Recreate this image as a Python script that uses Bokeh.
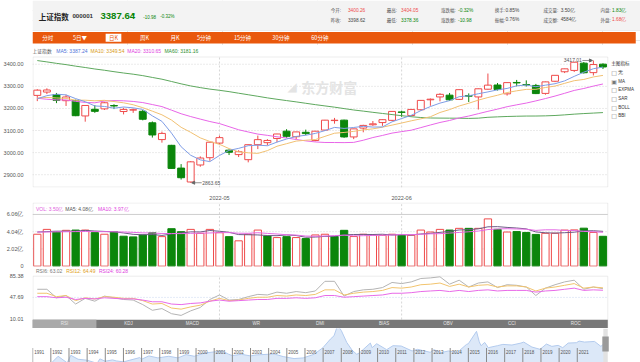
import numpy as np
from bokeh.plotting import figure
from bokeh.layouts import column
from bokeh.models import (Range1d, FixedTicker, NumeralTickFormatter, Label,
                          BoxAnnotation, ColumnDataSource, Arrow, NormalHead)
from bokeh.embed import file_html
from bokeh.resources import INLINE
from bokeh.core.properties import value

# ======================= data =======================
trade_dates = (["2022-04-%s" % d for d in ["01", "06", "07", "08", "11", "12", "13", "14", "15", "18",
                                           "19", "20", "21", "22", "25", "26", "27", "28", "29"]] +
               ["2022-05-%s" % d for d in ["05", "06", "09", "10", "11", "12", "13", "16", "17", "18",
                                           "19", "20", "23", "24", "25", "26", "27", "30", "31"]] +
               ["2022-06-%s" % d for d in ["01", "02", "06", "07", "08", "09", "10", "13", "14", "15",
                                           "16", "17", "20", "21", "22", "23", "24", "27", "28", "29", "30"]] +
               ["2022-07-01"])

opens = [3259.0, 3274.0, 3263.0, 3235.0, 3235.0, 3166.0, 3196.0, 3198.0, 3213.0, 3186.0,
         3192.5, 3187.0, 3135.0, 3059.0, 3033.0, 2930.0, 2867.0, 2944.0, 2977.0, 3043.0,
         3011.0, 2991.0, 2968.0, 3036.0, 3045.0, 3064.0, 3097.0, 3072.0, 3092.0, 3055.0,
         3102.0, 3145.0, 3147.0, 3071.0, 3111.0, 3126.0, 3136.0, 3146.0, 3184.0, 3168.0,
         3194.0, 3239.0, 3252.0, 3260.0, 3241.0, 3258.0, 3252.0, 3287.0, 3306.0, 3266.0,
         3317.5, 3308.0, 3304.0, 3268.0, 3323.0, 3366.0, 3372.0, 3405.0, 3362.0, 3400.26]
highs = [3287.0, 3291.0, 3270.0, 3262.0, 3240.0, 3214.0, 3215.0, 3230.0, 3219.0, 3203.0,
         3200.0, 3193.0, 3141.0, 3095.0, 3035.0, 2948.0, 2962.0, 2983.0, 3048.0, 3077.0,
         3014.0, 3011.0, 3036.0, 3077.0, 3061.0, 3085.0, 3106.0, 3094.0, 3104.0, 3097.0,
         3148.0, 3157.0, 3149.0, 3108.0, 3126.0, 3143.0, 3150.0, 3187.0, 3189.0, 3196.0,
         3237.0, 3245.0, 3269.0, 3270.0, 3286.0, 3268.0, 3290.0, 3358.0, 3315.0, 3318.0,
         3329.0, 3327.0, 3311.0, 3321.0, 3350.0, 3380.0, 3409.5, 3410.0, 3417.01, 3404.05]
lows = [3233.0, 3265.0, 3224.0, 3211.0, 3165.0, 3140.0, 3180.0, 3193.0, 3197.0, 3173.0,
        3180.0, 3146.0, 3068.0, 3045.0, 2928.0, 2878.0, 2863.65, 2936.0, 2963.0, 3037.0,
        2989.0, 2980.0, 2956.0, 3016.0, 3033.0, 3047.0, 3067.0, 3061.0, 3079.0, 3051.0,
        3098.0, 3131.0, 3067.0, 3061.0, 3092.0, 3121.0, 3121.0, 3143.0, 3162.0, 3163.0,
        3190.0, 3212.0, 3232.0, 3234.0, 3238.0, 3229.0, 3195.0, 3285.0, 3281.0, 3258.0,
        3300.0, 3299.0, 3265.0, 3262.0, 3319.0, 3360.0, 3365.0, 3358.0, 3349.0, 3378.36]
closes = [3282.72, 3283.43, 3236.70, 3251.85, 3167.13, 3213.33, 3186.82, 3225.64, 3211.24, 3195.52,
          3194.03, 3151.05, 3079.81, 3086.92, 2928.51, 2886.43, 2958.28, 2975.48, 3047.06, 3067.76,
          3001.56, 3004.14, 3035.84, 3058.70, 3054.99, 3084.28, 3073.75, 3093.70, 3085.98, 3096.96,
          3146.86, 3146.57, 3070.93, 3107.46, 3123.11, 3130.24, 3149.06, 3186.43, 3182.16, 3195.46,
          3236.37, 3241.76, 3263.79, 3238.95, 3284.83, 3255.55, 3288.91, 3305.41, 3285.38, 3316.79,
          3315.43, 3306.72, 3267.20, 3320.15, 3349.75, 3379.19, 3409.21, 3361.52, 3398.62, 3387.64]
prev_close_before = 3252.20

ma5 = [3243.99, 3257.78, 3264.33, 3261.38, 3244.37, 3230.49, 3211.17, 3208.96, 3200.84, 3206.52,
       3202.66, 3195.51, 3166.34, 3141.48, 3088.08, 3026.56, 2988.01, 2967.14, 2959.17, 2987.02,
       3010.05, 3019.22, 3031.29, 3033.62, 3031.07, 3047.61, 3061.53, 3073.10, 3078.56, 3086.95,
       3099.47, 3114.03, 3109.48, 3113.78, 3119.01, 3115.69, 3116.19, 3139.29, 3154.23, 3168.70,
       3189.93, 3208.47, 3223.94, 3235.30, 3253.17, 3257.01, 3266.44, 3274.76, 3284.05, 3290.44,
       3302.42, 3305.98, 3298.34, 3305.29, 3311.88, 3324.63, 3345.13, 3363.99, 3379.68, 3387.24]
ma10 = [3246.72, 3249.69, 3247.37, 3245.45, 3237.14, 3237.25, 3234.48, 3236.65, 3231.11, 3225.44,
        3216.57, 3203.33, 3187.64, 3171.15, 3147.29, 3114.60, 3091.75, 3066.73, 3050.31, 3037.53,
        3018.28, 3003.59, 2999.19, 2996.37, 3009.02, 3028.81, 3040.36, 3052.18, 3056.07, 3058.99,
        3073.52, 3087.76, 3091.27, 3096.15, 3102.96, 3107.56, 3115.09, 3124.36, 3133.98, 3143.83,
        3152.78, 3162.30, 3181.59, 3194.74, 3210.91, 3223.44, 3237.43, 3249.33, 3259.65, 3271.78,
        3279.69, 3286.19, 3286.53, 3294.65, 3301.14, 3313.50, 3325.53, 3331.14, 3342.46, 3349.54]
ma20 = [3246.01, 3241.54, 3238.70, 3238.47, 3232.02, 3227.20, 3225.36, 3233.44, 3235.47, 3234.49,
        3231.64, 3226.51, 3217.51, 3208.30, 3192.21, 3175.92, 3163.11, 3151.69, 3140.71, 3131.49,
        3117.43, 3103.47, 3093.43, 3083.77, 3078.16, 3071.71, 3066.06, 3059.46, 3053.20, 3048.27,
        3045.91, 3045.69, 3045.25, 3046.28, 3056.01, 3068.20, 3077.74, 3088.29, 3095.05, 3101.44,
        3113.15, 3125.03, 3136.43, 3145.44, 3156.93, 3165.49, 3176.25, 3186.84, 3196.81, 3207.80,
        3216.23, 3224.24, 3234.05, 3244.68, 3256.01, 3268.46, 3281.47, 3290.22, 3301.04, 3310.65]
ma60 = [3416.6, 3410.6, 3404.0, 3398.3, 3391.3, 3385.2, 3378.5, 3372.8, 3366.3, 3360.3,
        3354.9, 3348.4, 3340.2, 3332.3, 3321.9, 3311.3, 3301.8, 3294.2, 3287.4, 3282.0,
        3276.0, 3268.9, 3261.9, 3254.9, 3247.7, 3241.4, 3235.5, 3229.6, 3223.3, 3217.1,
        3211.4, 3205.7, 3199.2, 3192.9, 3187.8, 3182.4, 3177.2, 3172.2, 3167.2, 3162.4,
        3158.9, 3156.7, 3156.2, 3155.9, 3155.7, 3154.8, 3155.9, 3159.9, 3161.8, 3163.5,
        3164.6, 3165.5, 3165.6, 3166.4, 3168.0, 3170.8, 3174.1, 3176.7, 3178.9, 3181.16]

volumes = [3.74, 4.31, 4.00, 4.20, 4.23, 4.23, 3.93, 3.74, 4.04, 3.51,
           3.43, 3.66, 3.92, 3.46, 4.39, 4.04, 4.31, 3.85, 4.31, 3.92,
           3.46, 2.97, 3.74, 4.23, 3.54, 3.35, 3.46, 3.35, 3.23, 3.66,
           3.74, 3.47, 4.20, 3.47, 3.74, 3.66, 3.62, 3.74, 3.62, 3.62,
           4.23, 4.00, 4.31, 4.23, 4.43, 4.43, 4.43, 5.54, 4.31, 4.00,
           4.05, 3.95, 3.72, 3.85, 3.85, 4.23, 4.25, 4.45, 3.95, 3.50]
vol_ma5 = [4.00, 4.05, 4.10, 4.10, 4.10, 4.19, 4.12, 4.07, 4.03, 3.89,
           3.73, 3.68, 3.71, 3.60, 3.77, 3.89, 4.02, 4.01, 4.18, 4.09,
           3.97, 3.70, 3.68, 3.66, 3.59, 3.57, 3.66, 3.59, 3.39, 3.41,
           3.49, 3.49, 3.66, 3.71, 3.72, 3.71, 3.74, 3.65, 3.68, 3.65,
           3.77, 3.84, 3.96, 4.08, 4.24, 4.28, 4.37, 4.61, 4.63, 4.54,
           4.47, 4.37, 4.01, 3.91, 3.88, 3.92, 3.98, 4.13, 4.15, 4.08]
vol_ma10 = [4.00, 4.00, 4.02, 4.03, 4.05, 4.06, 4.05, 4.04, 4.03, 4.00,
            3.96, 3.90, 3.89, 3.82, 3.83, 3.81, 3.85, 3.86, 3.89, 3.93,
            3.93, 3.86, 3.85, 3.92, 3.84, 3.77, 3.68, 3.64, 3.53, 3.50,
            3.53, 3.58, 3.63, 3.55, 3.57, 3.60, 3.62, 3.66, 3.70, 3.69,
            3.74, 3.79, 3.81, 3.88, 3.95, 4.03, 4.11, 4.29, 4.36, 4.39,
            4.36, 4.33, 4.19, 4.26, 4.26, 4.19, 4.18, 4.07, 4.03, 3.97]

rsi6 = [62, 62, 47, 51, 36, 46, 41, 50, 47, 44, 43, 35, 25, 28, 19, 16, 24, 30, 44, 52,
        43, 44, 49, 53, 52, 57, 55, 58, 56, 59, 76, 76, 50, 58, 61, 62, 65, 74, 72, 75,
        81, 82, 84, 71, 78, 66, 73, 75, 65, 70, 69, 66, 51, 64, 70, 75, 78, 62, 66, 63.02]
rsi12 = [55, 55, 49, 51, 42, 47, 45, 49, 48, 46, 46, 42, 36, 37, 29, 27, 31, 34, 41, 46,
         42, 43, 46, 48, 48, 51, 50, 52, 51, 53, 61, 61, 52, 55, 57, 58, 60, 65, 64, 66,
         70, 71, 73, 67, 71, 66, 69, 70, 66, 68, 68, 66, 59, 64, 66, 69, 72, 64, 66, 64.49]
rsi24 = [49, 49, 47, 48, 44, 46, 45, 47, 46, 45, 45, 43, 40, 40, 36, 35, 37, 38, 41, 43,
         41, 42, 43, 44, 44, 46, 46, 47, 46, 47, 51, 51, 48, 49, 50, 51, 52, 55, 55, 56,
         58, 59, 60, 58, 60, 58, 60, 61, 59, 60, 60, 60, 57, 59, 60, 62, 64, 60, 61, 60.28]

price_ticks = [2900, 3000, 3100, 3200, 3300, 3400]
vol_ticks = [0, 2.02, 4.04, 6.06]
vol_tick_labels = ["0", "2.02亿", "4.04亿", "6.06亿"]
rsi_ticks = [10.01, 47.69, 85.38]

# long-history navigator (Shanghai Composite, approximate levels)
nav_x = [1991.0, 1991.5, 1992.0, 1992.4, 1992.9, 1993.1, 1993.5, 1994.0, 1994.55, 1994.7,
         1995.0, 1995.4, 1995.6, 1996.0, 1996.9, 1997.0, 1997.4, 1997.9, 1998.5, 1999.0,
         1999.45, 1999.9, 2000.5, 2001.45, 2001.8, 2002.0, 2002.5, 2003.0, 2003.3, 2004.3,
         2004.8, 2005.4, 2005.9, 2006.5, 2006.99, 2007.4, 2007.6, 2007.8, 2008.0, 2008.3,
         2008.6, 2008.85, 2009.0, 2009.6, 2009.7, 2009.95, 2010.5, 2010.85, 2011.3, 2011.9,
         2012.2, 2012.9, 2013.1, 2013.5, 2013.9, 2014.4, 2014.9, 2015.0, 2015.45, 2015.6,
         2015.7, 2015.9, 2016.1, 2016.6, 2016.9, 2017.4, 2017.9, 2018.05, 2018.5, 2018.95,
         2019.3, 2019.6, 2019.95, 2020.2, 2020.5, 2020.95, 2021.1, 2021.4, 2021.7, 2021.95,
         2022.3, 2022.5]
nav_y = [130, 150, 290, 1400, 400, 1550, 950, 800, 330, 1000,
         650, 850, 700, 550, 1200, 950, 1450, 1150, 1400, 1150,
         1650, 1400, 1900, 2200, 1700, 1500, 1700, 1450, 1600, 1750,
         1350, 1050, 1150, 1700, 2700, 4000, 4500, 6100, 5300, 3500,
         2300, 1700, 1900, 3400, 2700, 3300, 2400, 3000, 2950, 2200,
         2450, 2000, 2400, 1950, 2200, 2000, 3200, 3300, 5178, 3600,
         3000, 3500, 2700, 3000, 3200, 3100, 3400, 3550, 2800, 2450,
         3250, 2900, 3050, 2700, 3400, 3450, 3700, 3550, 3600, 3650,
         2900, 3350]
nav_years = list(range(1991, 2022))

stat_labels_1 = ["今开:", "最高:", "涨跌幅:", "换手:", "成交量:", "内盘:"]
stat_values_1 = ["3400.26", "3404.05", "-0.32%", "0.85%", "3.50亿", "1.83亿"]
stat_labels_2 = ["昨收:", "最低:", "涨跌额:", "振幅:", "成交额:", "外盘:"]
stat_values_2 = ["3398.62", "3378.36", "-10.98", "0.76%", "4584亿", "1.68亿"]
tab_names = ["分时", "5日▼", "日K", "周K", "月K", "5分钟", "15分钟", "30分钟", "60分钟"]
indicator_tabs = ["RSI", "KDJ", "MACD", "WR", "DMI", "BIAS", "OBV", "CCI", "ROC"]
main_indicators = ["无", "MA", "EXPMA", "SAR", "BOLL", "BBI"]

# ======================= style =======================
FONT = "Liberation Sans"
CJK = "Noto Sans CJK SC"
RED = "#ef4b4b"
GREEN = "#0b860b"
C_MA5, C_MA10, C_MA20, C_MA60 = "#7f9de6", "#f1c173", "#e866e8", "#5ea85e"
T_MA5, T_MA10, T_MA20, T_MA60 = "#4f72d8", "#d89a18", "#e040e0", "#2f8f2f"
GRID = "#d6d6d6"
BORDER = "#c4c4c4"
N = len(closes)
idx = list(range(N))
XR_IDX = -0.5 + 613.0 * N / 580.0   # frames run from x=27 to the page edge (640)


def add_label(fig, x, y, text, color="#555555", size="5px", align="left", bold=False, font=FONT):
    fig.add_layout(Label(x=x, y=y, text=text, text_color=color, text_font_size=size,
                         text_font=font, text_align=align, text_baseline="middle",
                         text_font_style="bold" if bold else "normal"))


def style_axis(ax):
    ax.axis_line_color = None
    ax.major_tick_line_color = None
    ax.minor_tick_line_color = None
    ax.major_label_text_font_size = "5.5px"
    ax.major_label_text_font = FONT
    ax.major_label_text_color = "#555555"
    ax.major_label_standoff = 3


def mx(px):
    return -0.5 + (px - 27.0) * N / 580.0


# ======================= header =======================
head = figure(width=640, height=45, x_range=Range1d(0, 640), y_range=Range1d(45, 0),
              output_backend="svg", toolbar_location=None, x_axis_location=None,
              y_axis_location=None, min_border=0)
head.outline_line_color = None
head.quad(left=[0], right=[640], top=[0], bottom=[30], fill_color="#f3f3f3", line_color=None)
head.quad(left=[0], right=[635], top=[31.5], bottom=[43], fill_color="#e9580c", line_color=None)
head.quad(left=[77], right=[93.5], top=[33.3], bottom=[41.3], fill_color="white", line_color=None)


def htext(x, y, s, color, size, bold=False, align="left", font=FONT):
    head.text(x=[x], y=[y], text=[s], text_color=color, text_font_size=value(size),
              text_font=value(font), text_font_style="bold" if bold else "normal",
              text_align=align, text_baseline="middle")


htext(6.5, 15.5, "上证指数", "#222222", "7.5px", bold=True, font=CJK)
htext(42, 15.8, "000001", "#333333", "6.2px", bold=True)
htext(71.5, 15.5, "3387.64", GREEN, "9.6px", bold=True)
htext(104.5, 13.5, "▼", GREEN, "4px", font="DejaVu Sans")
htext(116.5, 16, "-10.98", GREEN, "4.5px")
htext(134.5, 16, "-0.32%", GREEN, "4.5px")

lab_x = [314, 373, 430, 486.5, 538, 598]
val_x = [332, 388, 448, 498, 556, 610]
vcol_1 = [RED, RED, GREEN, "#444444", "#444444", GREEN]
vcol_2 = ["#444444", GREEN, GREEN, "#444444", "#444444", RED]
for k in range(6):
    htext(lab_x[k], 9.5, stat_labels_1[k], "#555555", "4.5px", font=CJK)
    htext(val_x[k], 9.5, stat_values_1[k], vcol_1[k], "4.8px")
    htext(lab_x[k], 19, stat_labels_2[k], "#555555", "4.5px", font=CJK)
    htext(val_x[k], 19, stat_values_2[k], vcol_2[k], "4.8px")

tab_x = [16, 50, 85.2, 118, 150, 180.5, 221, 261.5, 302.5]
for k, name in enumerate(tab_names):
    htext(tab_x[k], 37.5, name, "#e9580c" if name == "日K" else "white", "5.5px",
          align="center", font=CJK)

# ======================= main K-line =======================
PLO, PHI = 2842.1, 3432.7                 # price at y=193 and y=57
PTOP = PHI + 12.0 * (PHI - PLO) / 136.0   # price at the figure top (y=45)
main = figure(width=640, height=157, x_range=Range1d(-0.5, XR_IDX), y_range=Range1d(PLO, PTOP),
              output_backend="svg", toolbar_location=None, min_border_left=27,
              min_border_right=0, min_border_top=0, min_border_bottom=9)
main.outline_line_color = None
main.grid.visible = False


def my(py):
    return PHI - (py - 57.0) * (PHI - PLO) / 136.0


month_ticks = [i for i in range(1, N) if trade_dates[i][:7] != trade_dates[i - 1][:7]][:2]
month_labels = [trade_dates[i][:7] for i in month_ticks]

style_axis(main.yaxis[0])
main.yaxis.ticker = FixedTicker(ticks=price_ticks)
main.yaxis.formatter = NumeralTickFormatter(format="0.00")
style_axis(main.xaxis[0])
main.xaxis.major_label_standoff = 2
main.xaxis.ticker = FixedTicker(ticks=month_ticks)
main.xaxis.major_label_overrides = dict(zip(month_ticks, month_labels))

# grid lines limited to the chart panel
main.segment(x0=[-0.5] * len(price_ticks), x1=[N - 0.5] * len(price_ticks), y0=price_ticks,
             y1=price_ticks, line_color=GRID, line_dash="1 2", line_width=1)
main.segment(x0=month_ticks, x1=month_ticks, y0=[PLO] * 2, y1=[PHI] * 2, line_color=GRID,
             line_dash="2 2", line_width=1)

# watermark
main.text(x=[mx(298)], y=[my(88)], text=["东方财富"], text_color="#e4e4e4",
          text_font_size=value("14px"), text_font=value(CJK),
          text_font_style="bold", text_baseline="middle", text_align="left")
main.text(x=[mx(284)], y=[my(88)], text=["◢"], text_color="#e4e4e4",
          text_font_size=value("12px"), text_font=value("DejaVu Sans"),
          text_baseline="middle", text_align="left")

up = [c >= o for o, c in zip(opens, closes)]
ksrc = ColumnDataSource(dict(
    x=idx, h=highs, l=lows,
    top=[max(o, c) for o, c in zip(opens, closes)],
    bot=[min(o, c) for o, c in zip(opens, closes)],
    col=[RED if u else GREEN for u in up],
    fill=["white" if u else GREEN for u in up]))
main.segment(x0="x", y0="h", x1="x", y1="l", line_color="col", line_width=1, source=ksrc)
main.vbar(x="x", top="top", bottom="bot", width=0.72, fill_color="fill", line_color="col",
          line_width=1, source=ksrc)

for arr, colr in [(ma60, C_MA60), (ma20, C_MA20), (ma10, C_MA10), (ma5, C_MA5)]:
    main.line(idx, arr, line_color=colr, line_width=1)

main.add_layout(BoxAnnotation(left=mx(27.5), right=mx(607), top=PHI, bottom=my(192.5),
                              fill_color=None, line_color=BORDER, line_width=1))

# highest / lowest markers
imax = int(np.argmax(highs))
imin = int(np.argmin(lows))
main.add_layout(Arrow(end=NormalHead(size=3, line_color="#666666", fill_color="#666666"),
                      x_start=imax - 1.15, y_start=highs[imax], x_end=imax - 0.1, y_end=highs[imax],
                      line_color="#666666", line_width=0.7))
add_label(main, imax - 1.2, highs[imax], "%.2f" % highs[imax], "#555555", "5px", align="right")
main.add_layout(Arrow(end=NormalHead(size=3, line_color="#666666", fill_color="#666666"),
                      x_start=imin + 1.15, y_start=lows[imin], x_end=imin + 0.1, y_end=lows[imin],
                      line_color="#666666", line_width=0.7))
add_label(main, imin + 1.2, lows[imin], "%.2f" % lows[imin], "#555555", "5px")

# legend row
add_label(main, mx(27), my(50.7), "上证指数", "#555555", "4.8px", font=CJK)
add_label(main, mx(51), my(50.7), "MA5: %.2f" % ma5[-1], T_MA5, "5px")
add_label(main, mx(85.5), my(50.7), "MA10: %.2f" % ma10[-1], T_MA10, "5px")
add_label(main, mx(122.5), my(50.7), "MA20: %.2f" % ma20[-1], T_MA20, "5px")
add_label(main, mx(160), my(50.7), "MA60: %.2f" % ma60[-1], T_MA60, "5px")

# indicator selector at right
add_label(main, mx(610.5), my(63.5), "主图指标", "#333333", "4.6px", font=CJK)
ind_y = [73.3, 82.3, 91.2, 100.2, 109.3, 118.3]
for k, nm in enumerate(main_indicators):
    add_label(main, mx(610.5), my(ind_y[k]), "▣" if nm == "MA" else "□", "#777777", "6px",
              font="DejaVu Sans")
    add_label(main, mx(617.5), my(ind_y[k]), nm, "#333333", "4.5px")

# ======================= volume =======================
VLO, VHI = -0.04, 7.46
vol = figure(width=640, height=66, x_range=main.x_range, y_range=Range1d(VLO, VHI),
             output_backend="svg", toolbar_location=None, x_axis_location=None,
             min_border_left=27, min_border_right=0, min_border_top=0, min_border_bottom=2)
vol.outline_line_color = None
vol.grid.visible = False


def vy(py):
    return VHI - (py - 202.0) * (VHI - VLO) / 64.0


style_axis(vol.yaxis[0])
vol.yaxis.ticker = FixedTicker(ticks=vol_ticks)
vol.yaxis.major_label_overrides = dict(zip(vol_ticks, vol_tick_labels))
vol.segment(x0=[-0.5] * 2, x1=[N - 0.5] * 2, y0=vol_ticks[1:3], y1=vol_ticks[1:3],
            line_color=GRID, line_dash="1 2", line_width=1)
vol.segment(x0=month_ticks, x1=month_ticks, y0=[0] * 2, y1=[vy(202.5)] * 2, line_color=GRID,
            line_dash="2 2", line_width=1)
vol.segment(x0=[-0.5], x1=[N - 0.5], y0=[vol_ticks[-1]], y1=[vol_ticks[-1]],
            line_color="#cfcfcf", line_width=1)

prevs = [prev_close_before] + closes[:-1]
vup = [c >= p for c, p in zip(closes, prevs)]
vsrc = ColumnDataSource(dict(x=idx, v=volumes,
                             col=[RED if u else GREEN for u in vup],
                             fill=["white" if u else GREEN for u in vup]))
vol.vbar(x="x", top="v", bottom=0, width=0.76, fill_color="fill", line_color="col",
         line_width=1, source=vsrc)
vol.line(idx, vol_ma5, line_color="#6e5a86", line_width=1)
vol.line(idx, vol_ma10, line_color="#e46ae4", line_width=1)
vol.add_layout(BoxAnnotation(left=mx(27.5), right=mx(607), top=vy(202.5), bottom=vy(265.6),
                             fill_color=None, line_color=BORDER, line_width=1))
add_label(vol, mx(30.5), vy(208.3), "VOL: %.2f亿" % volumes[-1], "#e060e0", "5px")
add_label(vol, mx(60), vy(208.3), "MA5: %.2f亿" % vol_ma5[-1], "#555555", "5px")
add_label(vol, mx(93), vy(208.3), "MA10: %.2f亿" % vol_ma10[-1], "#e040e0", "5px")

# ======================= RSI =======================
R_SLOPE = (85.38 - 10.01) / (318.3 - 275.5)
RHI = 85.38 + (275.5 - 268.0) * R_SLOPE
RLO = 10.01 - (328.0 - 318.3) * R_SLOPE
rsi = figure(width=640, height=60, x_range=main.x_range, y_range=Range1d(RLO, RHI),
             output_backend="svg", toolbar_location=None, x_axis_location=None,
             min_border_left=27, min_border_right=0, min_border_top=0, min_border_bottom=0)
rsi.outline_line_color = None
rsi.grid.visible = False


def ry(py):
    return RHI - (py - 268.0) * R_SLOPE


style_axis(rsi.yaxis[0])
rsi.yaxis.ticker = FixedTicker(ticks=rsi_ticks)
rsi.yaxis.formatter = NumeralTickFormatter(format="0.00")
rsi.segment(x0=[-0.5], x1=[N - 0.5], y0=rsi_ticks[1:2], y1=rsi_ticks[1:2],
            line_color="#c9d6f0", line_dash="1 2", line_width=1)
rsi.segment(x0=month_ticks, x1=month_ticks, y0=[ry(319)] * 2, y1=[ry(275.7)] * 2,
            line_color=GRID, line_dash="2 2", line_width=1)
rsi.line(idx, rsi6, line_color="#b4b4b4", line_width=1)
rsi.line(idx, rsi12, line_color="#f2c46e", line_width=1)
rsi.line(idx, rsi24, line_color="#e86ae8", line_width=1)
rsi.add_layout(BoxAnnotation(left=mx(27.5), right=mx(607), top=ry(275.7), bottom=ry(327.5),
                             fill_color=None, line_color=BORDER, line_width=1))
add_label(rsi, mx(30.5), ry(270.3), "RSI6: %.2f" % rsi6[-1], "#777777", "5px")
add_label(rsi, mx(61), ry(270.3), "RSI12: %.2f" % rsi12[-1], "#e0a020", "5px")
add_label(rsi, mx(94), ry(270.3), "RSI24: %.2f" % rsi24[-1], "#e040e0", "5px")

# indicator tab bar
seg = N / len(indicator_tabs)
rsi.add_layout(BoxAnnotation(left=-0.5, right=N - 0.5, top=ry(319.3), bottom=ry(327.5),
                             fill_color="#787878", fill_alpha=1, line_alpha=0))
rsi.add_layout(BoxAnnotation(left=-0.5, right=-0.5 + seg, top=ry(319.3), bottom=ry(327.5),
                             fill_color="#a9a9a9", fill_alpha=1, line_alpha=0))
for k, nm in enumerate(indicator_tabs):
    add_label(rsi, -0.5 + seg * (k + 0.5), ry(323.2), nm, "#e6e6e6", "4.5px", align="center")

# ======================= navigator =======================
NLO, NHI = 455.0, 5606.0
XL = 1990.99
X_PER_PX = (2022.68 - XL) / 580.0
XR = XL + 613.0 * X_PER_PX
nav = figure(width=640, height=34, x_range=Range1d(XL, XR), y_range=Range1d(NLO, NHI),
             output_backend="svg", toolbar_location=None, x_axis_location=None,
             y_axis_location=None, min_border_left=27, min_border_right=0,
             min_border_top=0, min_border_bottom=0)
nav.outline_line_color = None
nav.grid.visible = False


def ny(py):
    return NHI - (py - 328.0) * (NHI - NLO) / 34.0


def nx(px):
    return XL + (px - 27.0) * X_PER_PX


nav.varea(x=nav_x, y1=0, y2=nav_y, fill_color="#dce8f8")
nav.line(nav_x, nav_y, line_color="#b3cbee", line_width=1)
nav.segment(x0=nav_years, y0=[ny(362)] * len(nav_years), x1=nav_years,
            y1=[ny(347.5)] * len(nav_years), line_color="#8a8a8a", line_width=1)
nav.text(x=[y + 0.08 for y in nav_years], y=[ny(351.5)] * len(nav_years),
         text=[str(y) for y in nav_years], text_color="#555555", text_font_size=value("4.5px"),
         text_font=value(FONT), text_baseline="middle", text_align="left")
nav.add_layout(BoxAnnotation(left=nx(602.5), right=nx(607), top=ny(328), bottom=ny(362),
                             fill_color="#e2e2e2", fill_alpha=1, line_alpha=0))
nav.add_layout(BoxAnnotation(left=nx(601.5), right=nx(608), top=ny(336), bottom=ny(351),
                             fill_color="#9a9a9a", fill_alpha=1, line_alpha=0))

layout = column(head, main, vol, rsi, nav, spacing=0)
open("out.html", "w").write(file_html(layout, INLINE))
